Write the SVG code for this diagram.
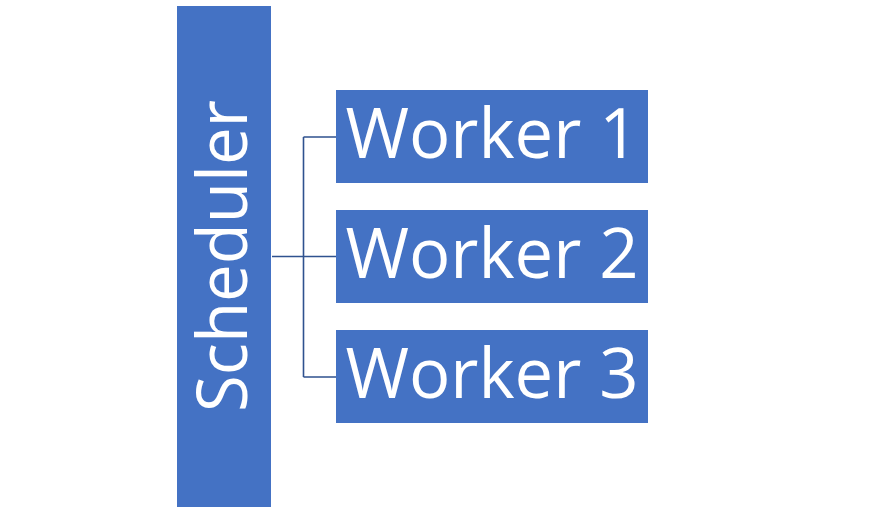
<svg xmlns="http://www.w3.org/2000/svg" width="869" height="513" viewBox="0 0 869 513">
<style>
.box{fill:#4472C4}
.lbl{fill:#ffffff;font-family:"Open Sans","Liberation Sans",sans-serif;font-size:69px;text-anchor:middle}
.conn{stroke:#2F528F;stroke-width:1.6;fill:none}
</style>
<rect width="869" height="513" fill="#ffffff"/>
<g id="connectors">
<path class="conn" d="M272 256.5 H336 M303.5 137 V377 M303.5 137 H336 M303.5 377 H336"/>
</g>
<g id="scheduler">
<rect class="box" x="177" y="6" width="94" height="501"/>
<text class="lbl" transform="translate(247,256) rotate(-90)" x="0" y="0" textLength="312" lengthAdjust="spacingAndGlyphs">Scheduler</text>
</g>
<g id="worker1">
<rect class="box" x="336" y="90" width="312" height="93"/>
<text class="lbl" x="492" y="158" textLength="293" lengthAdjust="spacingAndGlyphs">Worker 1</text>
</g>
<g id="worker2">
<rect class="box" x="336" y="210" width="312" height="93"/>
<text class="lbl" x="492" y="278" textLength="293" lengthAdjust="spacingAndGlyphs">Worker 2</text>
</g>
<g id="worker3">
<rect class="box" x="336" y="330" width="312" height="93"/>
<text class="lbl" x="492" y="398" textLength="293" lengthAdjust="spacingAndGlyphs">Worker 3</text>
</g>
</svg>
